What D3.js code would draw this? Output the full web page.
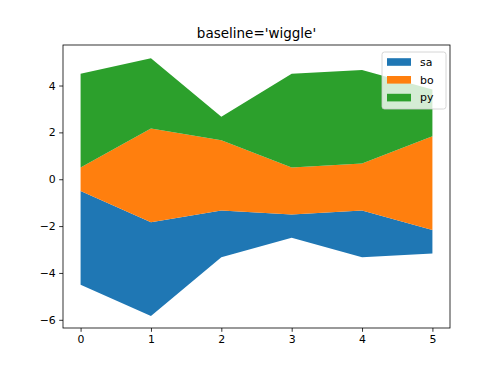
<!DOCTYPE html>
<html>
<head>
<meta charset="utf-8">
<script src="https://cdn.jsdelivr.net/npm/d3@7"></script>
<style>
  body { margin: 0; background: #fff; }
  svg { display: block; font-family: "DejaVu Sans", sans-serif; }
</style>
</head>
<body>
<svg id="chart" width="500" height="375"></svg>
<script>
// data
const xs = [0, 1, 2, 3, 4, 5];
const seriesNames = ["sa", "bo", "py"];
const sa = [4, 4, 2, 1, 2, 1];
const bo = [1, 4, 3, 2, 2, 4];
const py = [4, 3, 1, 4, 4, 2];
const xTicks = [0, 1, 2, 3, 4, 5];
const yTicks = [-6, -4, -2, 0, 2, 4];
const colors = ["#1f77b4", "#ff7f0e", "#2ca02c"];

const svg = d3.select("#chart");
const margin = { top: 45, right: 50, bottom: 47, left: 63 };
const width = 500 - margin.left - margin.right;
const height = 375 - margin.top - margin.bottom;

const rows = xs.map((x, i) => ({ x: x, sa: sa[i], bo: bo[i], py: py[i] }));

// matplotlib-style wiggle baseline: g0 = -sum((m - 0.5 - i) * y_i) / m
function mplWiggle(series, order) {
    const m = series.length;
    const n = series[0].length;
    for (let j = 0; j < n; j++) {
        let g0 = 0;
        for (let i = 0; i < m; i++) {
            const s = series[order[i]][j];
            g0 += (m - 0.5 - i) * (s[1] - s[0]);
        }
        g0 /= -m;
        let y = g0;
        for (let i = 0; i < m; i++) {
            const s = series[order[i]][j];
            const v = s[1] - s[0];
            s[0] = y;
            s[1] = y + v;
            y += v;
        }
    }
}

const stack = d3.stack().keys(seriesNames).offset(mplWiggle);
const layers = stack(rows);

const x = d3.scaleLinear().domain([-0.25, 5.25]).range([0, width]);
const y = d3.scaleLinear().domain([-6.35, 5.73]).range([height, 0]);
const color = d3.scaleOrdinal().domain(seriesNames).range(colors);

const g = svg.append("g")
    .attr("transform", `translate(${margin.left},${margin.top})`);

const area = d3.area()
    .x(d => x(d.data.x))
    .y0(d => y(d[0]))
    .y1(d => y(d[1]));

g.selectAll("path.layer")
    .data(layers)
    .enter()
    .append("path")
    .attr("class", "layer")
    .attr("fill", d => color(d.key))
    .attr("d", area);

//axes
const xAxis = g.append("g")
    .attr("transform", `translate(0,${height})`)
    .call(d3.axisBottom(x).tickValues(xTicks).tickSize(3.8).tickPadding(3.5)
        .tickFormat(d3.format("d")));
const yAxis = g.append("g")
    .call(d3.axisLeft(y).tickValues(yTicks).tickSize(3.8).tickPadding(3.5)
        .tickFormat(d => d < 0 ? "\u2212" + Math.abs(d) : d));

[xAxis, yAxis].forEach(a => {
    a.select(".domain").remove();
    a.selectAll("line").attr("stroke", "#000").attr("stroke-width", 0.8);
    a.selectAll("text").attr("fill", "#000").style("font-size", "10.9px")
        .style("font-family", "DejaVu Sans");
});

//frame
g.append("rect")
    .attr("width", width)
    .attr("height", height)
    .attr("fill", "none")
    .attr("stroke", "#000")
    .attr("stroke-width", 0.8);

//title
svg.append("text")
    .attr("x", margin.left + width / 2)
    .attr("y", 38)
    .attr("text-anchor", "middle")
    .style("font-size", "13.5px")
    .text("baseline='wiggle'");

//legend
const legend = g.append("g")
    .attr("transform", `translate(${width - 68},${7})`);

legend.append("rect")
    .attr("width", 64)
    .attr("height", 57)
    .attr("rx", 2.5)
    .attr("fill", "#fff")
    .attr("fill-opacity", 0.8)
    .attr("stroke", "#ccc")
    .attr("stroke-width", 0.8);

const items = legend.selectAll("g.item")
    .data(seriesNames)
    .enter()
    .append("g")
    .attr("class", "item")
    .attr("transform", (d, i) => `translate(5,${10 + i * 17.8})`);

items.append("rect")
    .attr("x", 0)
    .attr("y", -3.8)
    .attr("width", 24)
    .attr("height", 7.6)
    .attr("fill", d => color(d));

items.append("text")
    .attr("x", 33)
    .attr("y", 0)
    .attr("dy", "0.35em")
    .style("font-size", "10.9px")
    .text(d => d);
</script>
</body>
</html>
